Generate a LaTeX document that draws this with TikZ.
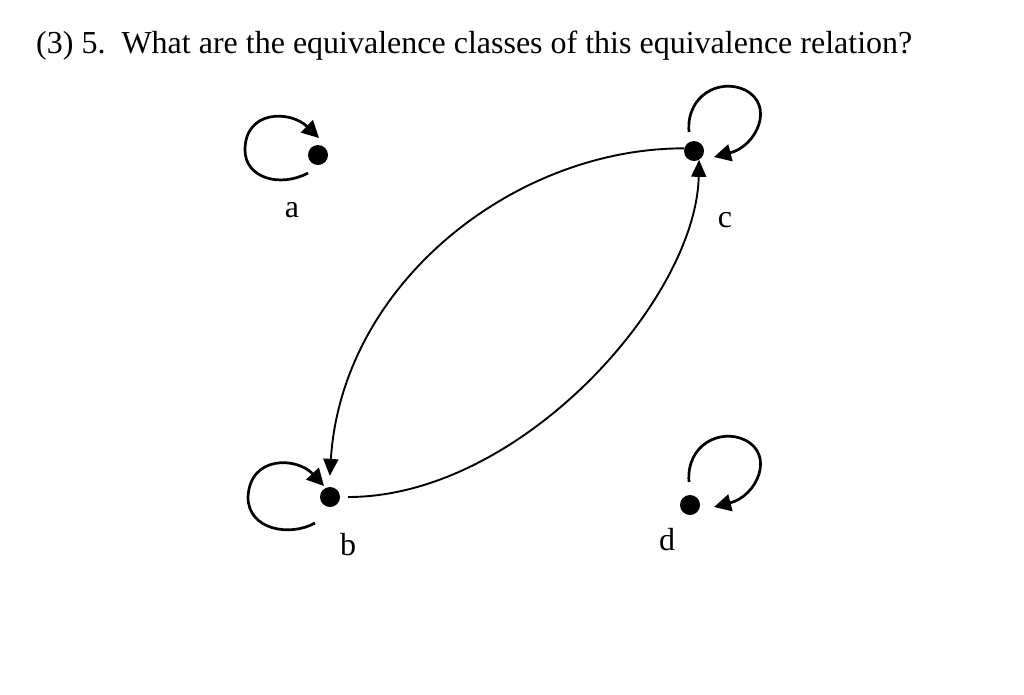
\documentclass[tikz,border=0pt]{standalone}
\usepackage{fontspec}
\setmainfont{Liberation Serif}
\usetikzlibrary{arrows.meta}
\tikzset{
  dot/.style={circle,fill=black,inner sep=0pt,minimum size=20pt},
  lbl/.style={inner sep=0pt,anchor=base,font=\fontsize{32}{38}\selectfont},
  edge/.style={line width=1.9pt,-{Triangle[length=17pt,width=15pt]}},
  selfloop/.style={line width=2.7pt,-{Triangle[length=17pt,width=17pt]}}
}
\begin{document}
\begin{tikzpicture}[x=1pt,y=-1pt]
\useasboundingbox (0,0) rectangle (1024,694);
\node[inner sep=0pt,anchor=base west,font=\fontsize{32}{38}\selectfont] (title) at (36,53) {(3) 5.\ \ What are the equivalence classes of this equivalence relation?};
% vertices
\node[dot] (a) at (318,155) {};
\node[dot] (b) at (330,497) {};
\node[dot] (c) at (694,151) {};
\node[dot] (d) at (690,505) {};
% labels
\node[lbl] (la) at (292,217) {a};
\node[lbl] (lb) at (348,555) {b};
\node[lbl] (lc) at (725,227) {c};
\node[lbl] (ld) at (667,550) {d};
% edges between c and b
\draw[edge,shorten >=11pt] (c.165) .. controls (515,148) and (342,283) .. (b.95);
\draw[edge,shorten <=8pt] (b.0) .. controls (520,497) and (696,300) .. (c.-60);
% self loops
\coordinate (as) at (308,173);
\coordinate (at) at (319,138);
\draw[selfloop] (as) .. controls (280,188) and (245,178) .. (245,150) .. controls (245,110) and (290,110) .. (at);
\coordinate (bs) at (315,523);
\coordinate (bt) at (324,486);
\draw[selfloop] (bs) .. controls (290,537) and (248,530) .. (248,497) .. controls (250,455) and (297,457) .. (bt);
\coordinate (cs) at (689,132);
\coordinate (ct) at (714,157);
\draw[selfloop] (cs) .. controls (686,95) and (720,78) .. (745,90) .. controls (775,105) and (757,146) .. (ct);
\coordinate (ds) at (689,482);
\coordinate (dt) at (714,507);
\draw[selfloop] (ds) .. controls (686,445) and (720,428) .. (745,440) .. controls (775,455) and (757,496) .. (dt);
\end{tikzpicture}
\end{document}
